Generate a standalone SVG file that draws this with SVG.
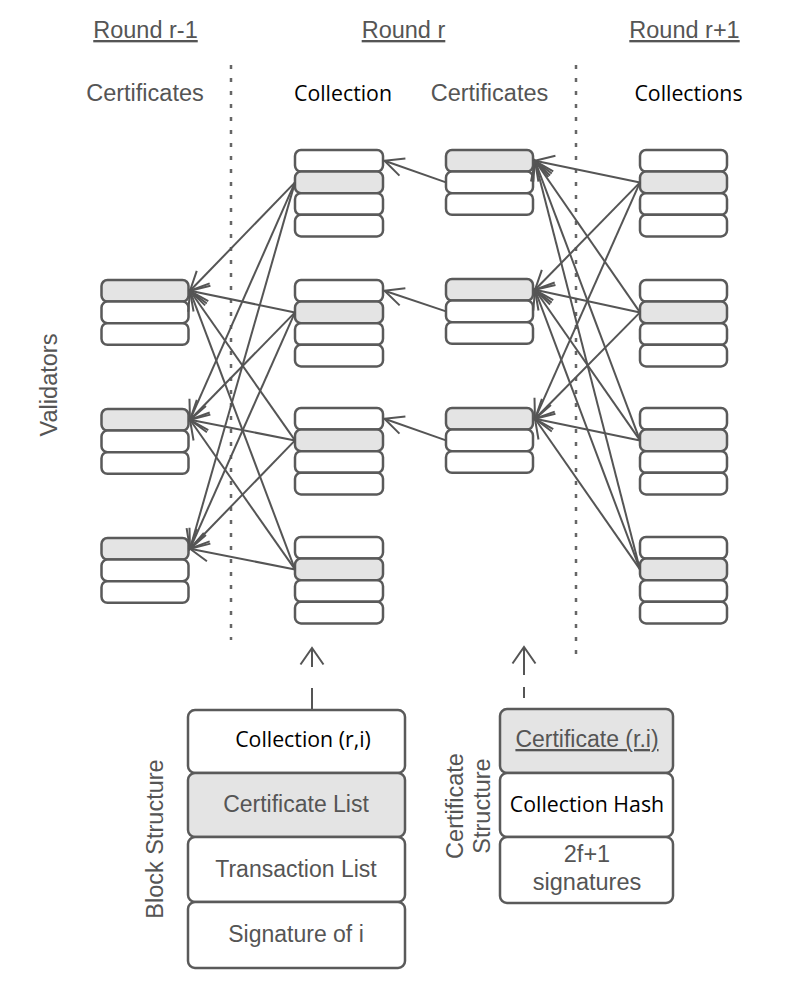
<svg xmlns="http://www.w3.org/2000/svg" width="788" height="990" viewBox="0 0 788 990">
<style>
.row{fill:#fff;stroke:#5a5a5a;stroke-width:2.5}
.gr{fill:#e4e4e4}
.lbl{font-family:"Liberation Sans",Arial,sans-serif;fill:#555;font-size:23.5px;text-anchor:middle}
.blk{font-family:"Open Sans","Liberation Sans",sans-serif;fill:#000;font-size:21.3px;text-anchor:middle}
.u{text-decoration:underline}
.edge{stroke:#555;stroke-width:2;fill:none;marker-end:url(#ah)}
.dash{stroke:#555;stroke-width:2;fill:none;marker-end:url(#ah2)}
.dot{stroke:#666;stroke-width:2.5;stroke-dasharray:4 9;fill:none}
</style>
<defs>
<marker id="ah" markerUnits="userSpaceOnUse" markerWidth="26" markerHeight="26" refX="22" refY="13" orient="auto" overflow="visible"><path d="M3,4 L22,13 L3,22" fill="none" stroke="#555" stroke-width="2"/></marker>
<marker id="ah2" markerUnits="userSpaceOnUse" markerWidth="24" markerHeight="24" refX="16.5" refY="11.5" orient="auto" overflow="visible"><path d="M0,0 L16.5,11.5 L0,23" fill="none" stroke="#555" stroke-width="2"/></marker>
</defs>
<rect width="788" height="990" fill="#fff"/>

<g id="headers">
<text class="lbl u" x="145.5" y="38">Round r-1</text>
<text class="lbl u" x="403.5" y="38">Round r</text>
<text class="lbl u" x="684.5" y="38">Round r+1</text>
<text class="lbl" x="145" y="101">Certificates</text>
<text class="blk" x="343" y="101">Collection</text>
<text class="lbl" x="489.5" y="101">Certificates</text>
<text class="blk" x="688.5" y="101">Collections</text>
<text class="lbl" transform="translate(57,385) rotate(-90)">Validators</text>
</g>

<g id="separators">
<line class="dot" x1="231" y1="65" x2="231" y2="640"/>
<line class="dot" x1="576" y1="65" x2="576" y2="655"/>
</g>

<g id="cert-r-1-1"><rect class="row gr" x="101.5" y="280" width="87" height="21.6" rx="6"/><rect class="row" x="101.5" y="301.6" width="87" height="21.6" rx="6"/><rect class="row" x="101.5" y="323.2" width="87" height="21.6" rx="6"/></g>
<g id="cert-r-1-2"><rect class="row gr" x="101.5" y="409" width="87" height="21.6" rx="6"/><rect class="row" x="101.5" y="430.6" width="87" height="21.6" rx="6"/><rect class="row" x="101.5" y="452.2" width="87" height="21.6" rx="6"/></g>
<g id="cert-r-1-3"><rect class="row gr" x="101.5" y="538" width="87" height="21.6" rx="6"/><rect class="row" x="101.5" y="559.6" width="87" height="21.6" rx="6"/><rect class="row" x="101.5" y="581.2" width="87" height="21.6" rx="6"/></g>

<g id="coll-r-1"><rect class="row" x="295" y="150" width="88" height="21.6" rx="6"/><rect class="row gr" x="295" y="171.6" width="88" height="21.6" rx="6"/><rect class="row" x="295" y="193.2" width="88" height="21.6" rx="6"/><rect class="row" x="295" y="214.8" width="88" height="21.6" rx="6"/></g>
<g id="coll-r-2"><rect class="row" x="295" y="280" width="88" height="21.6" rx="6"/><rect class="row gr" x="295" y="301.6" width="88" height="21.6" rx="6"/><rect class="row" x="295" y="323.2" width="88" height="21.6" rx="6"/><rect class="row" x="295" y="344.8" width="88" height="21.6" rx="6"/></g>
<g id="coll-r-3"><rect class="row" x="295" y="408" width="88" height="21.6" rx="6"/><rect class="row gr" x="295" y="429.6" width="88" height="21.6" rx="6"/><rect class="row" x="295" y="451.2" width="88" height="21.6" rx="6"/><rect class="row" x="295" y="472.8" width="88" height="21.6" rx="6"/></g>
<g id="coll-r-4"><rect class="row" x="295" y="537" width="88" height="21.6" rx="6"/><rect class="row gr" x="295" y="558.6" width="88" height="21.6" rx="6"/><rect class="row" x="295" y="580.2" width="88" height="21.6" rx="6"/><rect class="row" x="295" y="601.8" width="88" height="21.6" rx="6"/></g>

<g id="cert-r-1"><rect class="row gr" x="446" y="150" width="87" height="21.6" rx="6"/><rect class="row" x="446" y="171.6" width="87" height="21.6" rx="6"/><rect class="row" x="446" y="193.2" width="87" height="21.6" rx="6"/></g>
<g id="cert-r-2"><rect class="row gr" x="446" y="279" width="87" height="21.6" rx="6"/><rect class="row" x="446" y="300.6" width="87" height="21.6" rx="6"/><rect class="row" x="446" y="322.2" width="87" height="21.6" rx="6"/></g>
<g id="cert-r-3"><rect class="row gr" x="446" y="408" width="87" height="21.6" rx="6"/><rect class="row" x="446" y="429.6" width="87" height="21.6" rx="6"/><rect class="row" x="446" y="451.2" width="87" height="21.6" rx="6"/></g>

<g id="coll-r+1-1"><rect class="row" x="640" y="150" width="87" height="21.6" rx="6"/><rect class="row gr" x="640" y="171.6" width="87" height="21.6" rx="6"/><rect class="row" x="640" y="193.2" width="87" height="21.6" rx="6"/><rect class="row" x="640" y="214.8" width="87" height="21.6" rx="6"/></g>
<g id="coll-r+1-2"><rect class="row" x="640" y="280" width="87" height="21.6" rx="6"/><rect class="row gr" x="640" y="301.6" width="87" height="21.6" rx="6"/><rect class="row" x="640" y="323.2" width="87" height="21.6" rx="6"/><rect class="row" x="640" y="344.8" width="87" height="21.6" rx="6"/></g>
<g id="coll-r+1-3"><rect class="row" x="640" y="408" width="87" height="21.6" rx="6"/><rect class="row gr" x="640" y="429.6" width="87" height="21.6" rx="6"/><rect class="row" x="640" y="451.2" width="87" height="21.6" rx="6"/><rect class="row" x="640" y="472.8" width="87" height="21.6" rx="6"/></g>
<g id="coll-r+1-4"><rect class="row" x="640" y="537" width="87" height="21.6" rx="6"/><rect class="row gr" x="640" y="558.6" width="87" height="21.6" rx="6"/><rect class="row" x="640" y="580.2" width="87" height="21.6" rx="6"/><rect class="row" x="640" y="601.8" width="87" height="21.6" rx="6"/></g>

<g id="connectors">
<line class="edge" x1="295" y1="182.4" x2="190" y2="290.8"/>
<line class="edge" x1="295" y1="182.4" x2="190" y2="419.8"/>
<line class="edge" x1="295" y1="182.4" x2="190" y2="548.8"/>
<line class="edge" x1="295" y1="312.4" x2="190" y2="290.8"/>
<line class="edge" x1="295" y1="312.4" x2="190" y2="419.8"/>
<line class="edge" x1="295" y1="312.4" x2="190" y2="548.8"/>
<line class="edge" x1="295" y1="440.4" x2="190" y2="290.8"/>
<line class="edge" x1="295" y1="440.4" x2="190" y2="419.8"/>
<line class="edge" x1="295" y1="440.4" x2="190" y2="548.8"/>
<line class="edge" x1="295" y1="569.4" x2="190" y2="290.8"/>
<line class="edge" x1="295" y1="569.4" x2="190" y2="419.8"/>
<line class="edge" x1="295" y1="569.4" x2="190" y2="548.8"/>
<line class="edge" x1="640" y1="182.4" x2="535" y2="160.8"/>
<line class="edge" x1="640" y1="182.4" x2="535" y2="289.8"/>
<line class="edge" x1="640" y1="182.4" x2="535" y2="418.8"/>
<line class="edge" x1="640" y1="312.4" x2="535" y2="160.8"/>
<line class="edge" x1="640" y1="312.4" x2="535" y2="289.8"/>
<line class="edge" x1="640" y1="312.4" x2="535" y2="418.8"/>
<line class="edge" x1="640" y1="440.4" x2="535" y2="160.8"/>
<line class="edge" x1="640" y1="440.4" x2="535" y2="289.8"/>
<line class="edge" x1="640" y1="440.4" x2="535" y2="418.8"/>
<line class="edge" x1="640" y1="569.4" x2="535" y2="160.8"/>
<line class="edge" x1="640" y1="569.4" x2="535" y2="289.8"/>
<line class="edge" x1="640" y1="569.4" x2="535" y2="418.8"/>
<line class="edge" x1="446" y1="182.4" x2="384.5" y2="160.8"/>
<line class="edge" x1="446" y1="311.4" x2="384.5" y2="290.8"/>
<line class="edge" x1="446" y1="440.4" x2="384.5" y2="418.8"/>
<path class="dash" d="M312,710 L312,648" stroke-dasharray="22 21 19 10"/>
<path class="dash" d="M524,709 L524,647" stroke-dasharray="0 11 11 12 28 10"/>
</g>

<g id="block-structure">
<rect class="row" x="188" y="710" width="217" height="63" rx="7"/>
<rect class="row gr" x="188" y="773" width="217" height="64" rx="7"/>
<rect class="row" x="188" y="837" width="217" height="65" rx="7"/>
<rect class="row" x="188" y="902" width="217" height="66" rx="7"/>
<text class="blk" x="303" y="747">Collection (r,i)</text>
<text class="lbl" x="296" y="812" style="font-size:23px">Certificate List</text>
<text class="lbl" x="296" y="877" style="font-size:23px">Transaction List</text>
<text class="lbl" x="296" y="942" style="font-size:23px">Signature of i</text>
<text class="lbl" transform="translate(163,839) rotate(-90)">Block Structure</text>
</g>

<g id="certificate-structure">
<rect class="row gr" x="500" y="709" width="173" height="64" rx="7"/>
<rect class="row" x="500" y="773" width="173" height="64" rx="7"/>
<rect class="row" x="500" y="837" width="173" height="66" rx="7"/>
<text class="lbl u" x="587" y="747" style="font-size:23px">Certificate (r.i)</text>
<text class="blk" x="587" y="812">Collection Hash</text>
<text class="lbl" x="587" y="862">2f+1</text>
<text class="lbl" x="587" y="890">signatures</text>
<text class="lbl" transform="translate(463,806) rotate(-90)">Certificate</text>
<text class="lbl" transform="translate(490,806) rotate(-90)">Structure</text>
</g>
</svg>
